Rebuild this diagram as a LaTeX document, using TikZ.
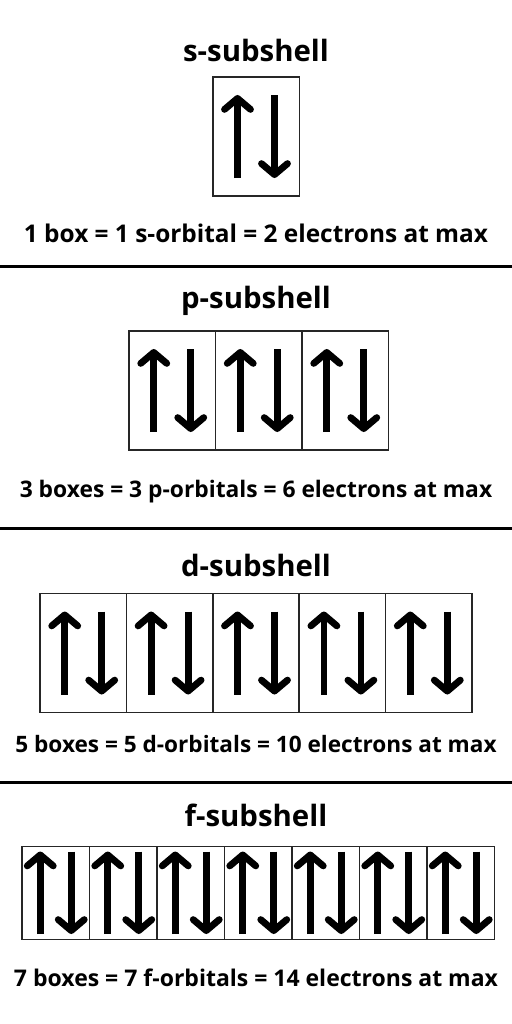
\documentclass[tikz,border=0pt]{standalone}
\usepackage{fontspec}
\setmainfont{Open Sans}
\usetikzlibrary{arrows.meta}

\begin{document}
\begin{tikzpicture}[
    x=0.5pt, y=-0.5pt,
    orb/.style={draw=black!85, line width=0.75pt, minimum width=43.25pt, minimum height=59.5pt, inner sep=0pt, outer sep=0pt},
    forb/.style={orb, minimum width=33.75pt, minimum height=46.5pt},
    spin/.style={line width=3.4pt, -{Straight Barb[length=5.5pt,width=13pt,round]}},
    title/.style={font=\bfseries\fontsize{14.7}{16}\selectfont},
    caption/.style={font=\bfseries\fontsize{#1}{14}\selectfont},
    sep/.style={line width=1.5pt}
    ]
    \useasboundingbox (0,0) rectangle (512,1024);
    % s-subshell
    \node[title] (stitle) at (256,50) {s-subshell};
    \node[orb] (s1) at (256,136.5) {};
    \draw[spin] ([xshift=-9.25pt,yshift=9pt]s1.south) -- ([xshift=-9.25pt,yshift=-9pt]s1.north);
    \draw[spin] ([xshift=9.25pt,yshift=-9pt]s1.north) -- ([xshift=9.25pt,yshift=9pt]s1.south);
    \node[caption=12.2] (scap) at (256,233) {1 box = 1 s-orbital = 2 electrons at max};
    \draw[sep] (0,266) -- (512,266);
    % p-subshell
    \node[title] (ptitle) at (256,301) {p-subshell};
    \foreach \i in {1,2,3} {
      \node[orb] (p\i) at ({129+86.5*(\i-0.5)},390.5) {};
      \draw[spin] ([xshift=-9.25pt,yshift=9pt]p\i.south) -- ([xshift=-9.25pt,yshift=-9pt]p\i.north);
      \draw[spin] ([xshift=9.25pt,yshift=-9pt]p\i.north) -- ([xshift=9.25pt,yshift=9pt]p\i.south);
    }
    \node[caption=11.4] (pcap) at (256,492) {3 boxes = 3 p-orbitals = 6 electrons at max};
    \draw[sep] (0,528) -- (512,528);
    % d-subshell
    \node[title] (dtitle) at (256,565) {d-subshell};
    \foreach \i in {1,...,5} {
      \node[orb] (d\i) at ({40+86.4*(\i-0.5)},653) {};
      \draw[spin] ([xshift=-9.25pt,yshift=9pt]d\i.south) -- ([xshift=-9.25pt,yshift=-9pt]d\i.north);
      \draw[spin] ([xshift=9.25pt,yshift=-9pt]d\i.north) -- ([xshift=9.25pt,yshift=9pt]d\i.south);
    }
    \node[caption=11.3] (dcap) at (256,744) {5 boxes = 5 d-orbitals = 10 electrons at max};
    \draw[sep] (0,782) -- (512,782);
    % f-subshell
    \node[title] (ftitle) at (256,815) {f-subshell};
    \foreach \i in {1,...,7} {
      \node[forb] (f\i) at ({22+67.5*(\i-0.5)},893) {};
      \draw[spin] ([xshift=-7.75pt,yshift=2.75pt]f\i.south) -- ([xshift=-7.75pt,yshift=-2.5pt]f\i.north);
      \draw[spin] ([xshift=7.75pt,yshift=-2.5pt]f\i.north) -- ([xshift=7.75pt,yshift=2.75pt]f\i.south);
    }
    \node[caption=11.5] (fcap) at (256,978) {7 boxes = 7 f-orbitals = 14 electrons at max};
\end{tikzpicture}
\end{document}
